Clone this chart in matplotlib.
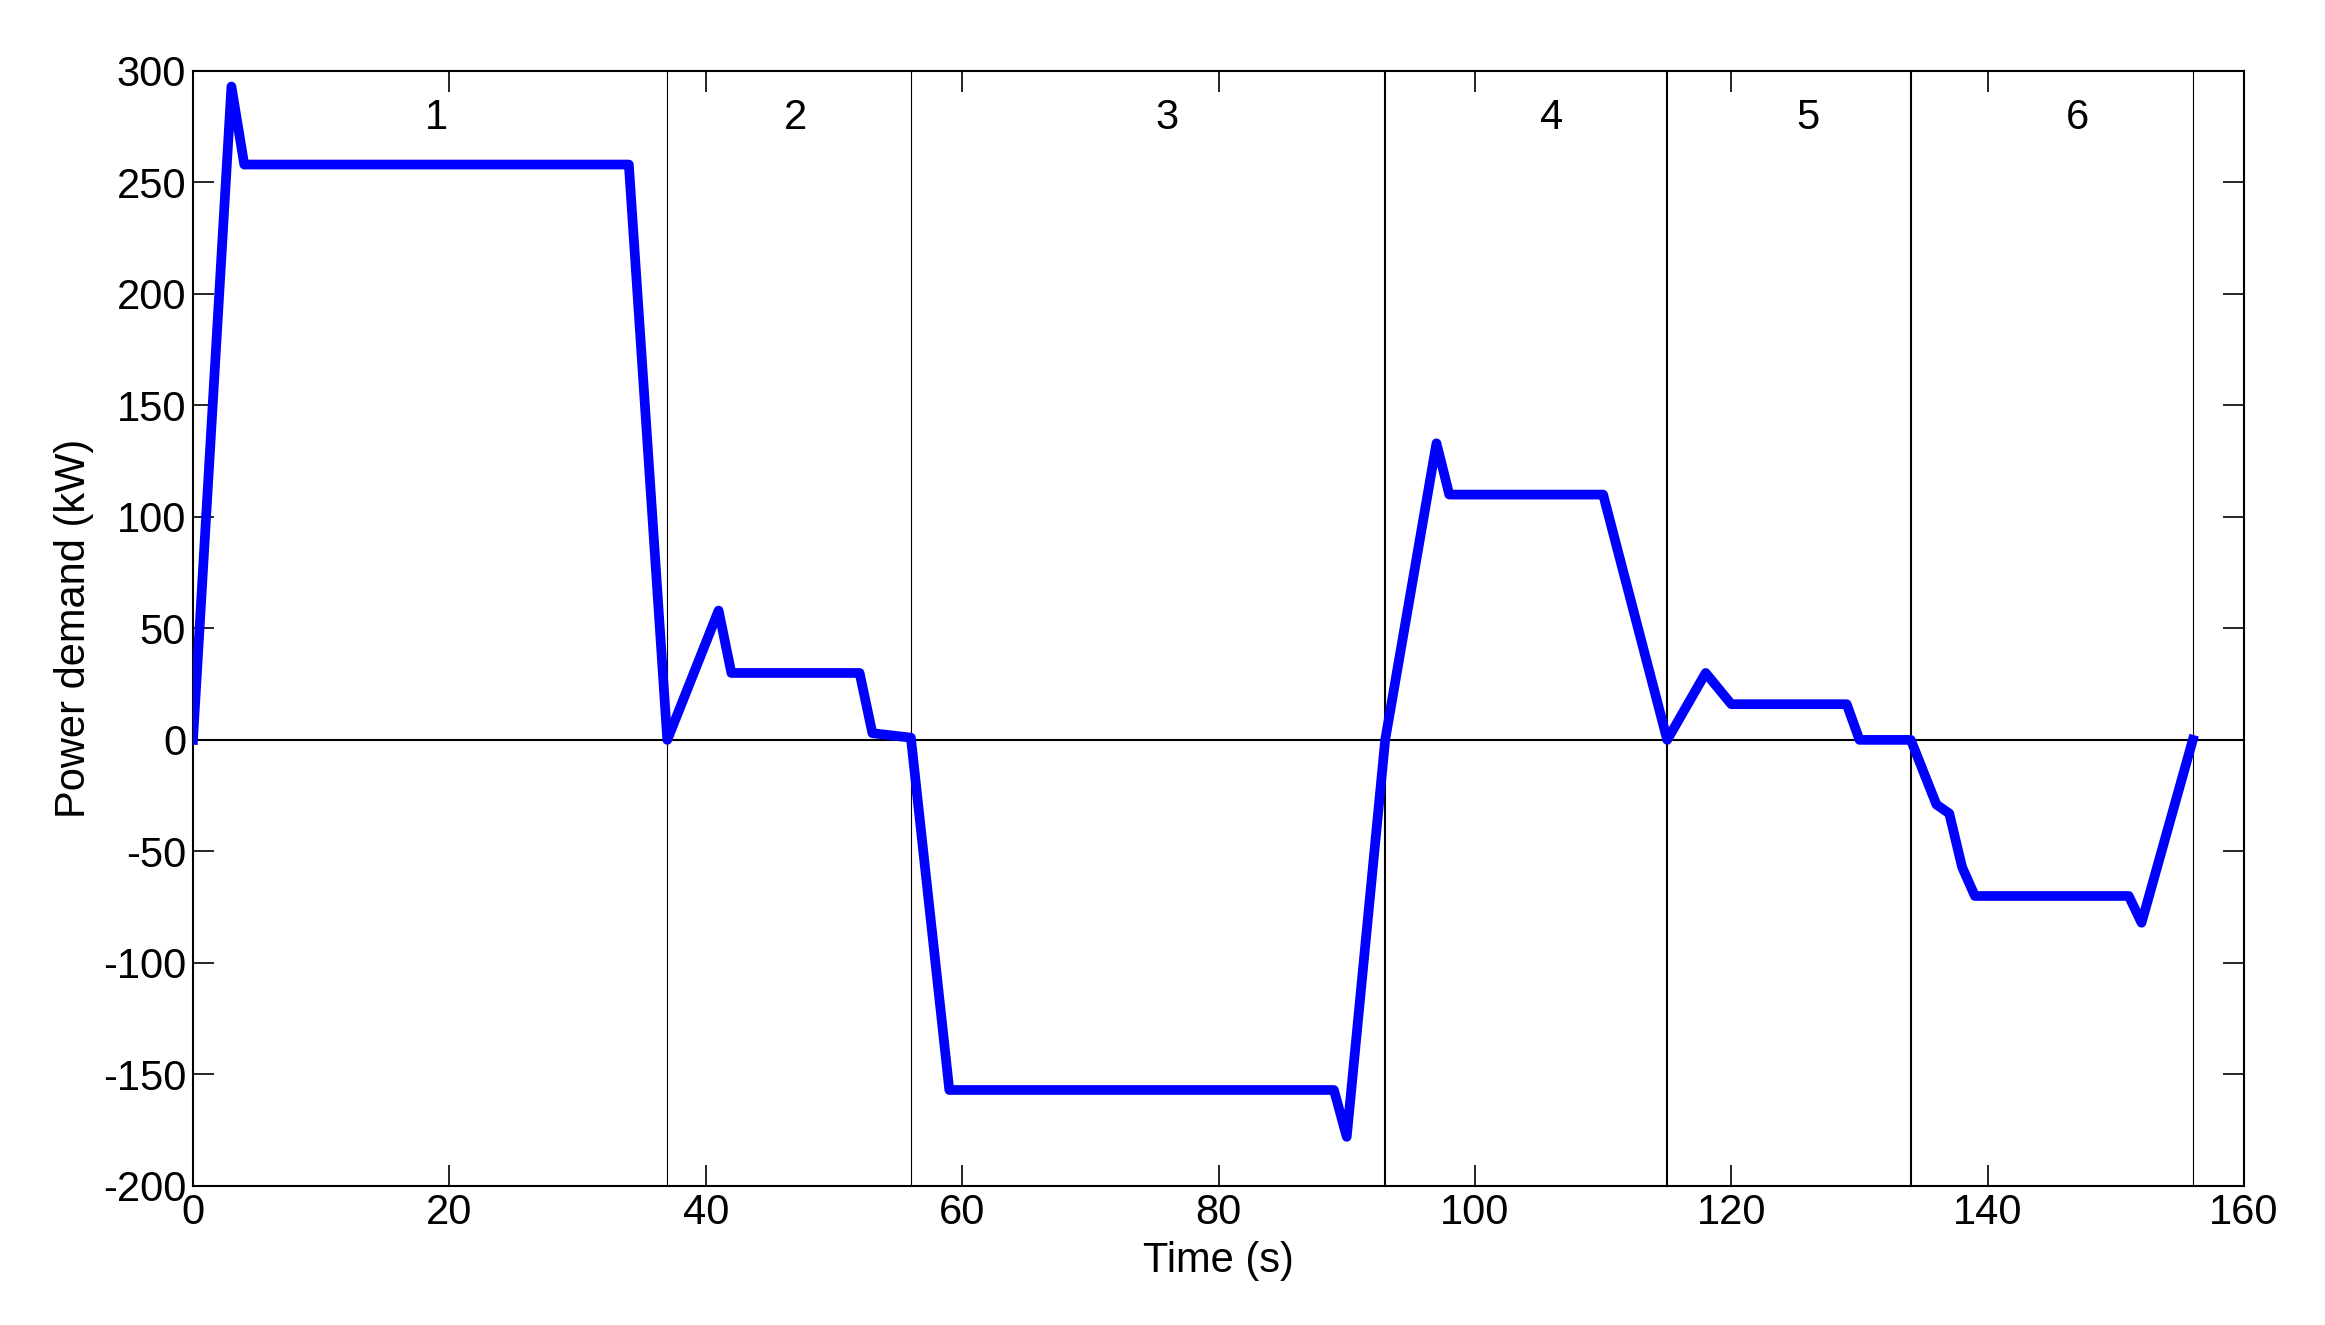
import numpy as np
import matplotlib.pyplot as plt

plt.rcParams['font.family'] = ['Liberation Sans', 'DejaVu Sans']
plt.rcParams['axes.unicode_minus'] = False

# power demand profile
time_s = [0, 3, 4, 34, 37, 41, 42, 52, 53, 56, 59, 89, 90, 93, 97, 98, 110, 115,
          118, 120, 129, 130, 134, 136, 137, 138, 139, 151, 152, 156]
power_kw = [0, 293, 258, 258, 0, 58, 30, 30, 3, 1, -157, -157, -178, 0, 133, 110, 110, 0,
            30, 16, 16, 0, 0, -29, -33, -57, -70, -70, -82, 0]

# phase boundaries and labels
bounds = [37, 56, 93, 115, 134, 156]
bound_lw = [0.8, 0.8, 1.5, 1.5, 1.5, 0.8]
phase_x = [19, 47, 76, 106, 126, 147]
phase_names = ['1', '2', '3', '4', '5', '6']

fig = plt.figure(figsize=(23.25, 13.25), dpi=100)
ax = fig.add_axes([0.083, 0.105, 0.8822, 0.8415])

ax.axhline(0, color='k', lw=1.5, zorder=1)
for b, w in zip(bounds, bound_lw):
    ax.axvline(b, color='k', lw=w, zorder=1)

ax.plot(time_s, power_kw, color='#0000ff', lw=7, zorder=3)

for px, name in zip(phase_x, phase_names):
    ax.text(px, 279, name, ha='center', va='center', fontsize=30)

ax.set_xlim(0, 160)
ax.set_ylim(-200, 300)
ax.set_xticks(np.arange(0, 161, 20))
ax.set_yticks(np.arange(-200, 301, 50))
ax.tick_params(direction='in', length=15, width=1.2, top=True, right=True,
               labelsize=30, pad=5)
for s in ax.spines.values():
    s.set_linewidth(1.5)

ax.set_xlabel('Time (s)', fontsize=30, labelpad=6)
ax.set_ylabel('Power demand (kW)', fontsize=30, labelpad=6)

fig.savefig('out.png', dpi=100)
